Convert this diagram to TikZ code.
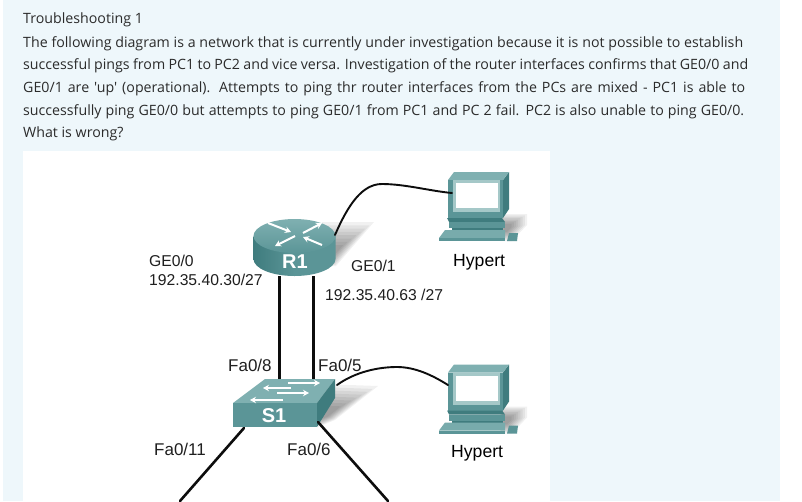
\documentclass[tikz,border=0pt]{standalone}
\usepackage{fontspec}
\setmainfont{Liberation Sans}
\newfontfamily\uifont{Open Sans}
\usetikzlibrary{calc,arrows.meta}
\definecolor{panelbg}{HTML}{EEF7FB}
\definecolor{bodytxt}{HTML}{2B2B2B}
\definecolor{tealdark}{HTML}{3F7C7E}
\definecolor{tealmid}{HTML}{5B9597}
\definecolor{teallight}{HTML}{7FB0B1}
\tikzset{
  x=1pt,y=-1pt,
  qline/.style={anchor=west,inner sep=0pt,text=bodytxt,font=\uifont\fontsize{14.2}{16}\selectfont},
  netlabel/.style={anchor=west,inner sep=0pt,text=black!88,font=\fontsize{15.7}{17}\selectfont},
  portlabel/.style={anchor=west,inner sep=0pt,text=black!88,font=\fontsize{17}{18}\selectfont},
  hostlabel/.style={anchor=west,inner sep=0pt,text=black,font=\fontsize{17.6}{18}\selectfont},
  devlabel/.style={inner sep=0pt,text=white,font=\bfseries\fontsize{20}{20}\selectfont},
  anchorbox/.style={inner sep=0pt,minimum width=#1,minimum height=40pt},
  link/.style={draw=black!95,line width=3pt},
  cable/.style={draw=black!95,line width=1.9pt,line cap=round},
  whitearrow/.style={draw=white,line width=2pt,-{Stealth[length=6pt,width=6.5pt]}},
}
% soft shadow: nested polygons shrinking towards a corner of the device
% #1 = x of centre, #2 = y of centre, #3 = polygon
\newcommand{\softshade}[3]{%
  \foreach \sc in {1,0.9,0.8,0.7,0.6,0.5,0.4,0.3}{%
    \fill[black,opacity=0.055,scale around={\sc:(#1,#2)}] #3;
  }%
}
\newcommand{\pcicon}[2]{%
  \begin{scope}[shift={(#1,#2)}]
    \softshade{505}{228}{(500,214) -- (527,214) -- (527,225) -- (512,241) -- (500,241) -- cycle}
    % monitor
    \fill[tealdark] (503,180) -- (509,172) -- (509,209) -- (503,218) -- cycle;
    \fill[teallight] (448,180) -- (454,172) -- (509,172) -- (503,180) -- cycle;
    \fill[tealmid] (448,180) rectangle (503,218);
    \fill[teallight!70!white] (453,180) rectangle (500,212);
    \fill[white] (456,183) rectangle (498,208);
    % base
    \fill[tealdark] (447,218) -- (502,218) -- (505,222) -- (449,222) -- cycle;
    \fill[tealmid] (449,222) rectangle (505,228);
    \fill[tealdark] (452,228) rectangle (503,231);
    % keyboard
    \fill[teallight!80!tealmid] (445,230) -- (505,230) -- (505,238) -- (439,238) -- cycle;
    \fill[tealmid] (439,238) rectangle (505,241);
    % mouse
    \fill[tealmid] (509,233) -- (518,233) -- (517,241) -- (507,241) -- cycle;
  \end{scope}
}
\begin{document}
\begin{tikzpicture}
\useasboundingbox (0,0) rectangle (802,501);
\fill[white] (0,0) rectangle (802,501);
\fill[panelbg] (3,0) rectangle (780,501);
\fill[white] (23,151) rectangle (550,501);

% question text
\node[qline] (t1) at (23,20) {Troubleshooting 1};
\node[qline] (t2) at (23,44) {\makebox[720pt][s]{The following diagram is a network that is currently under investigation because it is not possible to establish}};
\node[qline] (t3) at (23,66) {\makebox[725pt][s]{successful pings from PC1 to PC2 and vice versa. Investigation of the router interfaces confirms that GE0/0 and}};
\node[qline] (t4) at (23,89) {\makebox[722pt][s]{GE0/1 are 'up' (operational).  Attempts to ping thr router interfaces from the PCs are mixed - PC1 is able to}};
\node[qline] (t5) at (23,111.5) {\makebox[721pt][s]{successfully ping GE0/0 but attempts to ping GE0/1 from PC1 and PC 2 fail.  PC2 is also unable to ping GE0/0.}};
\node[qline] (t6) at (23,134) {What is wrong?};

% PCs
\pcicon{0}{0}
\pcicon{0}{192.5}
\node[anchorbox=80pt] (pc1) at (478,207) {};
\node[anchorbox=80pt] (pc2) at (478,399.5) {};

% router
\softshade{330}{255}{(322,222) -- (374,222) -- (336,266) -- (322,266) -- cycle}
\shade[left color=tealdark,right color=tealmid,middle color=tealmid] (253.5,236) -- (253.5,259)
  .. controls (253.5,268.4) and (271.9,276) .. (294.5,276)
  .. controls (317.1,276) and (335.5,268.4) .. (335.5,259) -- (335.5,236) -- cycle;
\shade[top color=teallight,bottom color=tealmid] (294.5,236) ellipse[x radius=41,y radius=17];
\draw[whitearrow] (268,223) -- (291,232);
\draw[whitearrow] (303,233) -- (322,223);
\draw[whitearrow] (322,245) -- (303,237);
\draw[whitearrow] (295,236) -- (275,246);
\node[anchorbox=83pt] (r1) at (294.5,248) {};
\node[devlabel] (r1name) at (295,262) {R1};

% switch
\softshade{325}{415}{(320,384) -- (378,386) -- (335,420) -- (318,427) -- cycle}
\fill[teallight] (233,403) -- (265,379) -- (335,379) -- (317,403) -- cycle;
\fill[tealdark] (317,403) -- (335,379) -- (335,398) -- (317,427) -- cycle;
\fill[tealmid] (233,403) rectangle (317,427);
\draw[whitearrow] (288,383) -- (320,383);
\draw[whitearrow] (291,388) -- (263,388);
\draw[whitearrow] (277,393) -- (309,393);
\draw[whitearrow] (283,400) -- (250,400);
\node[anchorbox=102pt] (s1) at (284,403) {};
\node[devlabel] (s1name) at (274,416) {S1};

% connectors
\draw[link] ($(r1)+(-15.5,28)$) -- ($(s1)+(-5,-24)$);
\draw[link] ($(r1)+(18.5,28)$) -- ($(s1)+(29,-24)$);
\draw[cable] ($(r1)+(40.5,-13)$) .. controls (348,205) and (362,184) .. (382,184)
  .. controls (405,184) and (430,191) .. ($(pc1)+(-26,-14)$);
\draw[cable] ($(s1)+(53,-18)$) .. controls (355,372) and (378,367) .. (397,367)
  .. controls (415,367) and (432,375) .. ($(pc2)+(-30,-14.5)$);
\coordinate (down1) at (180,501);
\coordinate (down2) at (388,501);
\draw[cable,line width=2.6pt] ($(s1)+(-40,25)$) -- (down1);
\draw[cable,line width=2.6pt] ($(s1)+(34,19)$) -- (down2);

% labels
\node[netlabel] (l1) at (149,261) {GE0/0};
\node[netlabel] (l2) at (149,280) {192.35.40.30/27};
\node[netlabel] (l3) at (351,266) {GE0/1};
\node[netlabel] (l4) at (325,295) {192.35.40.63 /27};
\node[hostlabel] (l5) at (453,262) {Hypert};
\node[portlabel] (l6) at (228,365) {Fa0/8};
\node[portlabel] (l7) at (318,365) {Fa0/5};
\node[portlabel] (l8) at (154,449) {Fa0/11};
\node[portlabel] (l9) at (287,449) {Fa0/6};
\node[hostlabel] (l10) at (451,453) {Hypert};
\end{tikzpicture}
\end{document}
